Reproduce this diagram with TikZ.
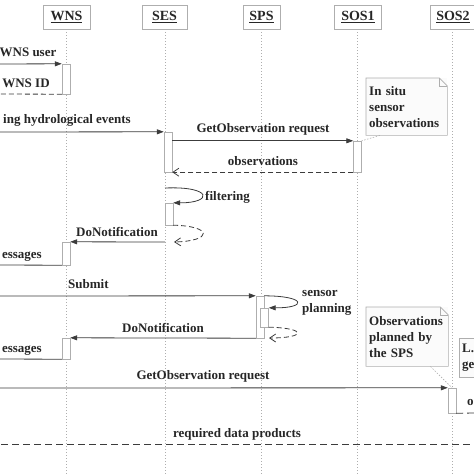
\documentclass[tikz,border=0pt]{standalone}
\usepackage{fontspec}
\setmainfont{Liberation Serif}
\usetikzlibrary{arrows.meta}
\definecolor{linegray}{HTML}{3C3C3C}
\definecolor{boxgray}{HTML}{AEAEAE}
\definecolor{notefill}{HTML}{FBFBFB}
\tikzset{
  every node/.style={font=\bfseries\fontsize{13}{16}\selectfont, text=black!85},
  head/.style={draw=boxgray, fill=white, minimum height=24pt, inner sep=0pt,
    font=\bfseries\fontsize{14}{16}\selectfont},
  life/.style={draw=boxgray, line width=0.6pt, dash pattern=on 1pt off 2pt},
  actbox/.style={draw=boxgray, fill=white, minimum width=8pt, inner sep=0pt},
  msg/.style={draw=linegray, line width=0.8pt, -{Triangle[length=7pt,width=5pt]}},
  ret/.style={draw=linegray, line width=0.8pt, dash pattern=on 5pt off 3pt,
    -{Straight Barb[length=6pt,width=8pt]}},
  plainmsg/.style={draw=linegray, line width=0.8pt},
  longdash/.style={draw=linegray, line width=0.8pt, dash pattern=on 7pt off 4pt},
  note/.style={fill=notefill, align=left, inner xsep=3pt, inner ysep=4pt, anchor=north west},
  noteedge/.style={draw=boxgray, line width=0.6pt},
  noteline/.style={draw=boxgray, line width=0.6pt, dash pattern=on 1.5pt off 1.5pt},
  lbl/.style={anchor=base, inner sep=0pt},
}
\begin{document}
\begin{tikzpicture}[x=1pt,y=-1pt]
\useasboundingbox (0,0) rectangle (474,474);
\clip (0,0) rectangle (474,474);
% lifelines
\node[head, minimum width=47pt] (wns) at (66.5,17) {\underline{WNS}};
\node[head, minimum width=45pt] (ses) at (164.5,17) {\underline{SES}};
\node[head, minimum width=37pt] (sps) at (261.5,17) {\underline{SPS}};
\node[head, minimum width=47pt] (sos1) at (358,17) {\underline{SOS1}};
\node[head, minimum width=46pt] (sos2) at (453,17) {\underline{SOS2}};
\draw[life] (66.5,29) -- (66.5,474);
\draw[life] (165,29) -- (165,474);
\draw[life] (261,29) -- (261,474);
\draw[life] (357,29) -- (357,474);
\draw[life] (452,29) -- (452,474);
% activations
\node[actbox, minimum height=30pt] (w1) at (66,79) {};
\node[actbox, minimum height=40pt] (s1) at (168,152) {};
\node[actbox, minimum height=31pt] (o1) at (357.5,156.5) {};
\node[actbox, minimum height=22pt] (s2) at (169,214) {};
\node[actbox, minimum height=23pt] (w2) at (66,253.5) {};
\node[actbox, minimum height=42pt] (p1) at (260,317) {};
\node[actbox, minimum height=19pt] (p2) at (264.5,317.5) {};
\node[actbox, minimum height=21pt] (w3) at (66,348.5) {};
\node[actbox, minimum height=25pt] (q1) at (452,400.5) {};
% loose ends outside the frame
\coordinate (u1) at (-10,64);
\coordinate (u2) at (-10,94);
\coordinate (u3) at (-10,132);
\coordinate (f1) at (165,188);
\coordinate (f2) at (174,242);
\coordinate (d1) at (165,242);
\coordinate (u4) at (-10,265);
\coordinate (u5) at (-10,296);
\coordinate (f3) at (269,338);
\coordinate (u6) at (-10,359);
\coordinate (u7) at (-10,388);
\coordinate (r1) at (480,413);
\coordinate (u8) at (-10,444);
\coordinate (r2) at (480,444);
% messages
\draw[msg] (u1) -- (w1.north west);
\node[lbl] at (28,56) {WNS user};
\draw[ret] (w1.south west) -- (u2);
\node[lbl] at (26,87) {WNS ID};
\draw[msg] (u3) -- (s1.north west);
\node[lbl, anchor=base east] at (131,123) {ing hydrological events};
\draw[msg] (s1.east |- o1.north) -- (o1.north west);
\node[lbl] at (263,132) {GetObservation request};
\draw[ret] (o1.south west) -- (s1.south east);
\node[lbl] at (263,165) {observations};
\draw[msg] (f1) .. controls (213,186) and (213,203) .. (s2.north east);
\node[lbl, anchor=base west] at (205,200) {filtering};
\draw[ret] (s2.south east) .. controls (213,226) and (213,241) .. (f2);
\draw[msg] (d1) -- (w2.north east);
\node[lbl] at (117,236) {DoNotification};
\draw[plainmsg] (w2.south west) -- (u4);
\node[lbl, anchor=base east] at (42,258) {essages};
\draw[msg] (u5) -- (p1.north west);
\node[lbl, anchor=base west] at (68,288) {Submit};
\draw[msg] (p1.north east) .. controls (307,296) and (307,308) .. (p2.north east);
\node[inner sep=0pt, anchor=north west, align=left] at (302,290) {sensor\\planning};
\draw[ret] (p2.south east) .. controls (307,328) and (307,338) .. (f3);
\draw[msg] (p1.south west) -- (w3.north east);
\node[lbl] at (163,332) {DoNotification};
\draw[plainmsg] (w3.south west) -- (u6);
\node[lbl, anchor=base east] at (42,352) {essages};
\draw[msg] (u7) -- (q1.north west);
\node[lbl] at (203,379) {GetObservation request};
\draw[longdash] (q1.south east) -- (r1);
\node[lbl, anchor=base west] at (467,405) {o};
\draw[longdash] (u8) -- (r2);
\node[lbl] at (237,437) {required data products};
% notes
\node[note, text width=75pt, minimum height=57pt] (n1) at (366,78) {In situ\\sensor\\observations};
\draw[noteedge] (n1.north west) -- ([xshift=-8pt]n1.north east) -- ([yshift=-8pt]n1.north east)
  -- (n1.south east) -- (n1.south west) -- cycle;
\draw[noteedge] ([xshift=-8pt]n1.north east) |- ([yshift=-8pt]n1.north east);
\draw[noteline] ([xshift=14pt]n1.south west) -- (o1.north east);
\node[note, text width=76pt, minimum height=59pt] (n2) at (366,307) {Observations\\planned by\\the SPS};
\draw[noteedge] (n2.north west) -- ([xshift=-8pt]n2.north east) -- ([yshift=-8pt]n2.north east)
  -- (n2.south east) -- (n2.south west) -- cycle;
\draw[noteedge] ([xshift=-8pt]n2.north east) |- ([yshift=-8pt]n2.north east);
\draw[noteline] ([xshift=-18pt]n2.south east) -- (q1.north);
\node[note, text width=40pt, minimum height=39pt] (n3) at (459,338) {L.\\ge};
\draw[noteedge] (n3.north east) -- (n3.north west) -- (n3.south west) -- (n3.south east);
\end{tikzpicture}
\end{document}
